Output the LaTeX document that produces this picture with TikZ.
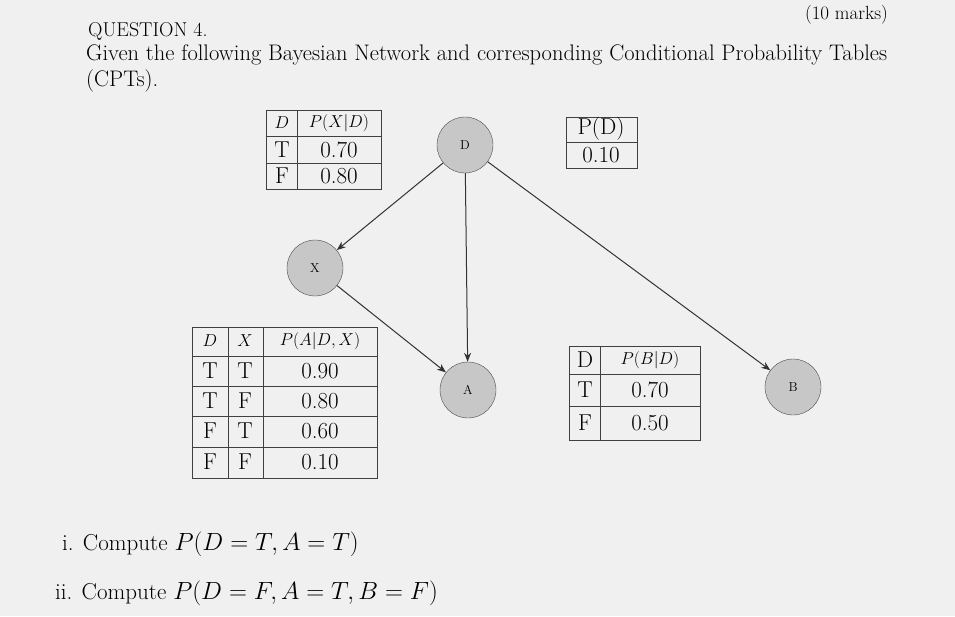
\documentclass[tikz,border=0pt]{standalone}
\usetikzlibrary{arrows.meta}
\begin{document}
\begin{tikzpicture}[x=1pt,y=-1pt,
  bn/.style={circle,draw=black!70,fill=black!22,minimum size=56pt,inner sep=0pt,font=\fontsize{13}{15}\selectfont},
  edge/.style={draw=black!80,line width=1pt,-{Stealth[length=9pt,width=7pt]}},
  cell/.style={font=\fontsize{23}{25}\selectfont,inner sep=0pt,anchor=center},
  hcell/.style={font=\fontsize{19}{21}\selectfont,inner sep=0pt,anchor=center},
  grid/.style={draw=black!75,line width=0.8pt},
  txt/.style={font=\fontsize{19}{22}\selectfont,anchor=base west,inner sep=0pt}]
\fill[black!6] (0,0) rectangle (955,616);
\useasboundingbox (0,0) rectangle (955,616);
\node[txt,anchor=base east] (marks) at (888,19) {(10 marks)};
\node[txt,font=\fontsize{20}{22}\selectfont] (q) at (88,36) {QUESTION 4.};
\node[txt,font=\fontsize{22.5}{26}\selectfont] (g) at (86,60) {Given the following Bayesian Network and corresponding Conditional Probability Tables};
\node[txt,font=\fontsize{22.5}{26}\selectfont] (c) at (86,86) {(CPTs).};
% nodes
\node[bn] (D) at (465,145) {D};
\node[bn] (X) at (315,268) {X};
\node[bn] (A) at (468,390) {A};
\node[bn] (B) at (793,387) {B};
\draw[edge] (D) -- (X);
\draw[edge] (D) -- (A);
\draw[edge] (D) -- (B);
\draw[edge] (X) -- (A);
% table P(X|D)
\draw[grid] (266,110) rectangle (381,189);
\draw[grid] (266,136) -- (381,136) (266,163) -- (381,163) (297,110) -- (297,189);
\node[hcell] (t1a) at (282,123) {$D$}; \node[hcell] (t1b) at (339,123) {$P(X|D)$};
\node[cell] (t1c) at (282,150) {T}; \node[cell] (t1d) at (339,150) {0.70};
\node[cell] (t1e) at (282,176) {F}; \node[cell] (t1f) at (339,176) {0.80};
% table P(D)
\draw[grid] (566,117) rectangle (637,168);
\draw[grid] (566,142) -- (637,142);
\node[cell] (t2a) at (601,129) {P(D)}; \node[cell] (t2b) at (601,155) {0.10};
% table P(A|D,X)
\draw[grid] (192,327) rectangle (377,478);
\foreach \yy in {356,386,416,447} \draw[grid] (192,\yy) -- (377,\yy);
\draw[grid] (228,327) -- (228,478) (263,327) -- (263,478);
\node[hcell] (h1) at (210,341) {$D$}; \node[hcell] (h2) at (245,341) {$X$}; \node[hcell] (h3) at (320,341) {$P(A|D,X)$};
\node[cell] (r11) at (210,371) {T}; \node[cell] (r12) at (245,371) {T}; \node[cell] (r13) at (320,371) {0.90};
\node[cell] (r21) at (210,401) {T}; \node[cell] (r22) at (245,401) {F}; \node[cell] (r23) at (320,401) {0.80};
\node[cell] (r31) at (210,431) {F}; \node[cell] (r32) at (245,431) {T}; \node[cell] (r33) at (320,431) {0.60};
\node[cell] (r41) at (210,462) {F}; \node[cell] (r42) at (245,462) {F}; \node[cell] (r43) at (320,462) {0.10};
% table P(B|D)
\draw[grid] (569,346) rectangle (700,440);
\draw[grid] (569,374) -- (700,374) (569,406) -- (700,406) (600,346) -- (600,440);
\node[cell] (b1) at (585,360) {D}; \node[hcell] (b2) at (650,360) {$P(B|D)$};
\node[cell] (b3) at (585,390) {T}; \node[cell] (b4) at (650,390) {0.70};
\node[cell] (b5) at (585,423) {F}; \node[cell] (b6) at (650,423) {0.50};
% questions
\node[txt,font=\fontsize{23}{27}\selectfont] (qi) at (62,550) {i. Compute $P(D=T,A=T)$};
\node[txt,font=\fontsize{23}{27}\selectfont] (qii) at (55,599) {ii. Compute $P(D=F,A=T,B=F)$};
\end{tikzpicture}
\end{document}
